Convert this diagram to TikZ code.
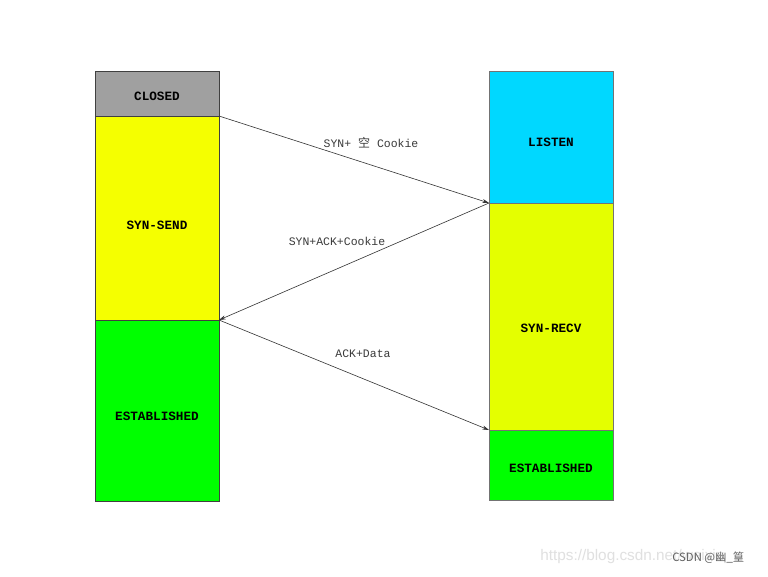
\documentclass[tikz,border=0pt]{standalone}
\usepackage{fontspec}
\setmainfont{Liberation Serif}
\setmonofont{Liberation Mono}
\newfontfamily\cjk{Noto Sans CJK SC}
\newfontfamily\wmfont{Liberation Sans}
\usetikzlibrary{arrows.meta}
\definecolor{cclosed}{HTML}{A0A0A0}
\definecolor{csend}{HTML}{F5FF00}
\definecolor{cest}{HTML}{00FF00}
\definecolor{clisten}{HTML}{00D8FF}
\definecolor{crecv}{HTML}{E4FF00}
\definecolor{clabel}{HTML}{3A3A3A}
\begin{document}
\begin{tikzpicture}[x=0.75pt,y=-0.75pt,
  statebox/.style={draw=black!75, line width=0.5pt, inner sep=0pt, outer sep=0pt,
    anchor=north west, minimum width=93pt},
  rbox/.style={statebox, draw=black!55},
  statetext/.style={font=\ttfamily\bfseries\fontsize{9.5}{11}\selectfont, inner sep=0pt},
  msg/.style={draw=black!80, line width=0.45pt, -{Stealth[length=5pt,width=3pt]}},
  msglabel/.style={font=\ttfamily\fontsize{8.6}{10}\selectfont, text=clabel, inner sep=0pt}]
\useasboundingbox (0,0) rectangle (768,576);
\fill[white] (0,0) rectangle (768,576);
% left column
\node[statebox, fill=cclosed, minimum height=45*0.75pt] (closed) at (95,71) {};
\node[statebox, fill=csend, minimum height=204*0.75pt] (synsend) at (95,116) {};
\node[statebox, fill=cest, minimum height=181*0.75pt] (estA) at (95,320) {};
% right column
\node[rbox, fill=clisten, minimum height=132*0.75pt] (listen) at (489,71) {};
\node[rbox, fill=crecv, minimum height=227*0.75pt] (synrecv) at (489,203) {};
\node[rbox, fill=cest, minimum height=70*0.75pt] (estB) at (489,430) {};
% state texts
\node[statetext] (tclosed) at (157,96) {CLOSED};
\node[statetext] (tsend) at (157,225) {SYN-SEND};
\node[statetext] (testA) at (157,416) {ESTABLISHED};
\node[statetext] (tlisten) at (551,142) {LISTEN};
\node[statetext] (trecv) at (551,328) {SYN-RECV};
\node[statetext] (testB) at (551,468) {ESTABLISHED};
% messages
\draw[msg] (synsend.north east) -- (listen.south west);
\draw[msg] (synrecv.north west) -- (estA.north east);
\draw[msg] (estA.north east) -- (estB.north west);
\node[msglabel] (l1) at (371,143) {SYN+ {\cjk\fontsize{9}{10}\selectfont 空} Cookie};
\node[msglabel] (l2) at (337,241) {SYN+ACK+Cookie};
\node[msglabel] (l3) at (363,354) {ACK+Data};
% watermark
\node[font=\wmfont\fontsize{11.5}{12}\selectfont, text=black!12, anchor=west, inner sep=0pt] (wm1) at (540,557) {https://blog.csdn.net/weixin\_};
\node[font=\cjk\fontsize{8.5}{10}\selectfont, text=black!62, anchor=west, inner sep=0pt] (wm2) at (672,558) {CSDN @幽\_篁};
\end{tikzpicture}
\end{document}
